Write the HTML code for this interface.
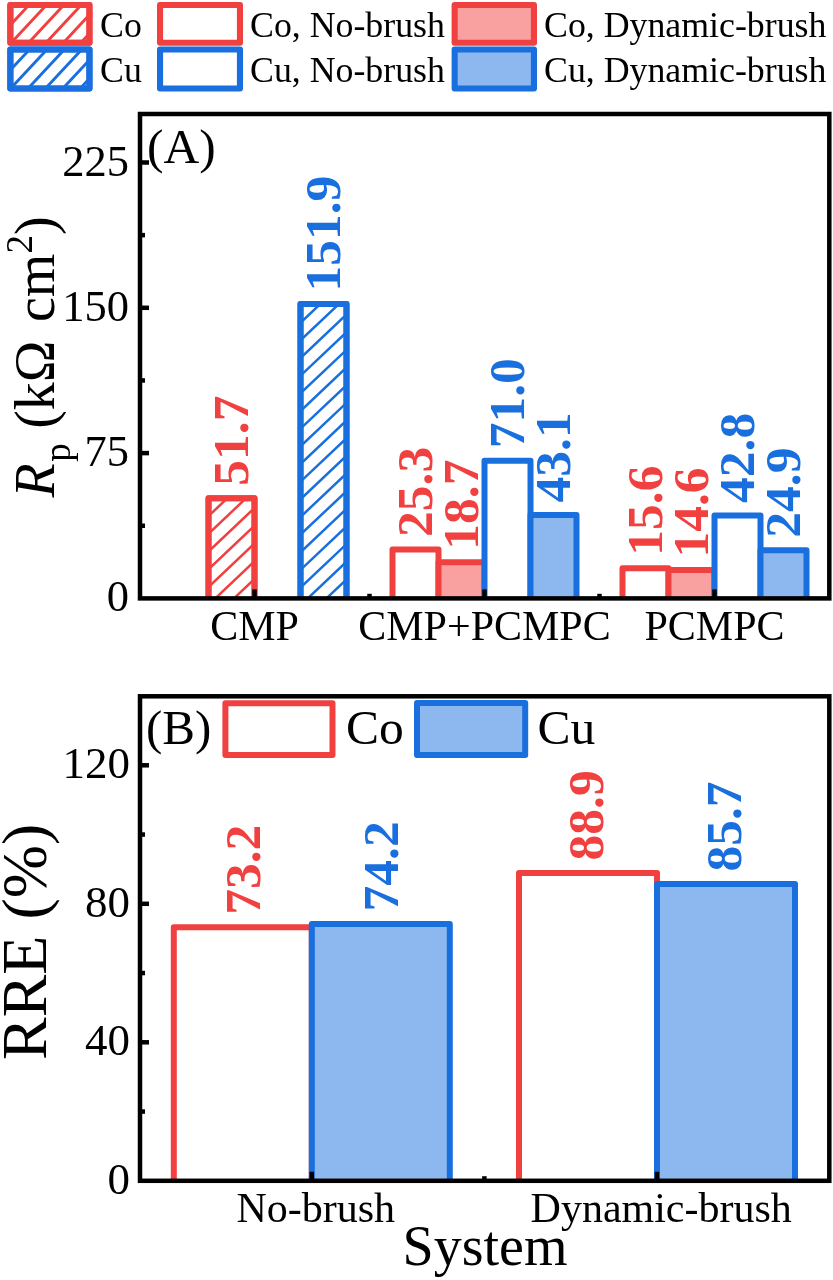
<!DOCTYPE html>
<html lang="en"><head><meta charset="utf-8"><title>Rp and RRE bar charts</title>
<style>html,body{margin:0;padding:0;background:#fff}body{width:833px;height:1280px;overflow:hidden}svg{display:block}text{font-family:"Liberation Serif", "Times New Roman", serif;fill:#000}</style>
</head><body>
<svg width="833" height="1280" viewBox="0 0 833 1280">
<rect width="833" height="1280" fill="#fff"/>
<rect x="10.35" y="5.05" width="79.10000000000001" height="37.699999999999996" fill="#fff" stroke="#F14040" stroke-width="6.1" stroke-linejoin="round"/>
<rect x="10.35" y="49.449999999999996" width="79.10000000000001" height="39.0" fill="#fff" stroke="#1A6FDF" stroke-width="6.1" stroke-linejoin="round"/>
<clipPath id="c1"><rect x="10.3" y="5.0" width="79.2" height="37.8"/></clipPath>
<g clip-path="url(#c1)" stroke="#F14040" stroke-width="2.9" fill="none">
<path d="M-25.50 44.80L13.49 3.00M-8.10 44.80L30.89 3.00M9.30 44.80L48.29 3.00M26.70 44.80L65.69 3.00M44.10 44.80L83.09 3.00M61.50 44.80L100.49 3.00M78.90 44.80L117.89 3.00"/></g>
<clipPath id="c2"><rect x="10.3" y="49.4" width="79.2" height="39.1"/></clipPath>
<g clip-path="url(#c2)" stroke="#1A6FDF" stroke-width="2.9" fill="none">
<path d="M-26.06 90.50L14.14 47.40M-8.66 90.50L31.54 47.40M8.74 90.50L48.94 47.40M26.14 90.50L66.34 47.40M43.54 90.50L83.74 47.40M60.94 90.50L101.14 47.40M78.34 90.50L118.54 47.40"/></g>
<rect x="10.35" y="5.05" width="79.10000000000001" height="37.699999999999996" fill="none" stroke="#F14040" stroke-width="6.1" stroke-linejoin="round"/>
<rect x="10.35" y="49.449999999999996" width="79.10000000000001" height="39.0" fill="none" stroke="#1A6FDF" stroke-width="6.1" stroke-linejoin="round"/>
<rect x="160.05" y="5.05" width="79.9" height="37.699999999999996" fill="#fff" stroke="#F14040" stroke-width="6.1" stroke-linejoin="round"/>
<rect x="160.05" y="49.449999999999996" width="79.9" height="39.0" fill="#fff" stroke="#1A6FDF" stroke-width="6.1" stroke-linejoin="round"/>
<rect x="454.65000000000003" y="5.05" width="79.29999999999998" height="37.699999999999996" fill="#F9A0A0" stroke="#F14040" stroke-width="6.1" stroke-linejoin="round"/>
<rect x="454.65000000000003" y="49.449999999999996" width="79.29999999999998" height="39.0" fill="#8CB7EF" stroke="#1A6FDF" stroke-width="6.1" stroke-linejoin="round"/>
<text x="100" y="36.6" font-size="35.8">Co</text>
<text x="100" y="81.5" font-size="35.8">Cu</text>
<text x="250" y="36.6" font-size="35.8">Co, No-brush</text>
<text x="250" y="81.5" font-size="35.8">Cu, No-brush</text>
<text x="544" y="36.6" font-size="35.8">Co, Dynamic-brush</text>
<text x="544" y="81.5" font-size="35.8">Cu, Dynamic-brush</text>
<path d="M208.5 598.4V498.2398666666666H254.5V598.4" fill="#fff" stroke="#F14040" stroke-width="6" stroke-linejoin="round"/>
<clipPath id="c3"><rect x="208.5" y="498.2398666666666" width="46.0" height="100.16013333333336"/></clipPath>
<g clip-path="url(#c3)" stroke="#F14040" stroke-width="2.5" fill="none">
<path d="M101.09 600.40L210.73 496.24M119.78 600.40L229.42 496.24M138.46 600.40L248.10 496.24M157.14 600.40L266.79 496.24M175.83 600.40L285.47 496.24M194.51 600.40L304.16 496.24M213.20 600.40L322.84 496.24M231.88 600.40L341.52 496.24M250.57 600.40L360.21 496.24"/></g>
<path d="M208.5 598.4V498.2398666666666H254.5V598.4" fill="none" stroke="#F14040" stroke-width="6" stroke-linejoin="round"/>
<path d="M300.5 598.4V304.11906666666664H346.5V598.4" fill="#fff" stroke="#1A6FDF" stroke-width="6" stroke-linejoin="round"/>
<clipPath id="c4"><rect x="300.5" y="304.11906666666664" width="46.0" height="294.28093333333334"/></clipPath>
<g clip-path="url(#c4)" stroke="#1A6FDF" stroke-width="2.5" fill="none">
<path d="M-12.07 600.40L303.58 302.12M6.62 600.40L322.26 302.12M25.31 600.40L340.95 302.12M44.00 600.40L359.64 302.12M62.69 600.40L378.33 302.12M81.37 600.40L397.01 302.12M100.06 600.40L415.70 302.12M118.75 600.40L434.39 302.12M137.44 600.40L453.08 302.12M156.12 600.40L471.77 302.12M174.81 600.40L490.45 302.12M193.50 600.40L509.14 302.12M212.19 600.40L527.83 302.12M230.88 600.40L546.52 302.12M249.56 600.40L565.20 302.12M268.25 600.40L583.89 302.12M286.94 600.40L602.58 302.12M305.63 600.40L621.27 302.12M324.31 600.40L639.96 302.12M343.00 600.40L658.64 302.12"/></g>
<path d="M300.5 598.4V304.11906666666664H346.5V598.4" fill="none" stroke="#1A6FDF" stroke-width="6" stroke-linejoin="round"/>
<path d="M392.5 598.4V549.3854666666666H438.5V598.4" fill="#fff" stroke="#F14040" stroke-width="6" stroke-linejoin="round"/>
<path d="M438.5 598.4V562.1718666666667H484.5V598.4" fill="#F9A0A0" stroke="#F14040" stroke-width="6" stroke-linejoin="round"/>
<path d="M484.5 598.4V460.84933333333333H530.5V598.4" fill="#fff" stroke="#1A6FDF" stroke-width="6" stroke-linejoin="round"/>
<path d="M530.5 598.4V514.9009333333333H576.5V598.4" fill="#8CB7EF" stroke="#1A6FDF" stroke-width="6" stroke-linejoin="round"/>
<path d="M622.5 598.4V568.1776H668.5V598.4" fill="#fff" stroke="#F14040" stroke-width="6" stroke-linejoin="round"/>
<path d="M668.5 598.4V570.1149333333333H714.5V598.4" fill="#F9A0A0" stroke="#F14040" stroke-width="6" stroke-linejoin="round"/>
<path d="M714.5 598.4V515.4821333333333H760.5V598.4" fill="#fff" stroke="#1A6FDF" stroke-width="6" stroke-linejoin="round"/>
<path d="M760.5 598.4V550.1604H806.5V598.4" fill="#8CB7EF" stroke="#1A6FDF" stroke-width="6" stroke-linejoin="round"/>
<text transform="translate(248.3 485.7398666666666) rotate(-90)" font-size="51.5" font-weight="bold" style="fill:#F14040">51.7</text>
<text transform="translate(340.3 291.61906666666664) rotate(-90)" font-size="51.5" font-weight="bold" style="fill:#1A6FDF">151.9</text>
<text transform="translate(432.3 536.8854666666666) rotate(-90)" font-size="51.5" font-weight="bold" style="fill:#F14040">25.3</text>
<text transform="translate(478.3 549.6718666666667) rotate(-90)" font-size="51.5" font-weight="bold" style="fill:#F14040">18.7</text>
<text transform="translate(524.3 448.34933333333333) rotate(-90)" font-size="51.5" font-weight="bold" style="fill:#1A6FDF">71.0</text>
<text transform="translate(570.3 502.40093333333334) rotate(-90)" font-size="51.5" font-weight="bold" style="fill:#1A6FDF">43.1</text>
<text transform="translate(662.3 555.6776) rotate(-90)" font-size="51.5" font-weight="bold" style="fill:#F14040">15.6</text>
<text transform="translate(708.3 557.6149333333333) rotate(-90)" font-size="51.5" font-weight="bold" style="fill:#F14040">14.6</text>
<text transform="translate(754.3 502.9821333333333) rotate(-90)" font-size="51.5" font-weight="bold" style="fill:#1A6FDF">42.8</text>
<text transform="translate(800.3 537.6604) rotate(-90)" font-size="51.5" font-weight="bold" style="fill:#1A6FDF">24.9</text>
<rect x="140" y="114" width="689.3" height="484.4" fill="none" stroke="#000" stroke-width="4.5"/>
<text x="129" y="611.4" font-size="44.5" text-anchor="end">0</text>
<line x1="140" x2="149" y1="453.09999999999997" y2="453.09999999999997" stroke="#000" stroke-width="4.5"/>
<text x="129" y="466.09999999999997" font-size="44.5" text-anchor="end">75</text>
<line x1="140" x2="149" y1="307.79999999999995" y2="307.79999999999995" stroke="#000" stroke-width="4.5"/>
<text x="129" y="320.79999999999995" font-size="44.5" text-anchor="end">150</text>
<line x1="140" x2="149" y1="162.49999999999994" y2="162.49999999999994" stroke="#000" stroke-width="4.5"/>
<text x="129" y="175.49999999999994" font-size="44.5" text-anchor="end">225</text>
<line x1="140" x2="145" y1="525.75" y2="525.75" stroke="#000" stroke-width="4.5"/>
<line x1="140" x2="145" y1="380.44999999999993" y2="380.44999999999993" stroke="#000" stroke-width="4.5"/>
<line x1="140" x2="145" y1="235.14999999999998" y2="235.14999999999998" stroke="#000" stroke-width="4.5"/>
<line x1="254.5" x2="254.5" y1="598.4" y2="589.4" stroke="#000" stroke-width="4.5"/>
<line x1="484.5" x2="484.5" y1="598.4" y2="589.4" stroke="#000" stroke-width="4.5"/>
<line x1="714.5" x2="714.5" y1="598.4" y2="589.4" stroke="#000" stroke-width="4.5"/>
<line x1="369.5" x2="369.5" y1="598.4" y2="593.8" stroke="#000" stroke-width="4.5"/>
<line x1="599.5" x2="599.5" y1="598.4" y2="593.8" stroke="#000" stroke-width="4.5"/>
<text x="254.5" y="640.3" font-size="42" text-anchor="middle">CMP</text>
<text x="484.5" y="640.3" font-size="42" text-anchor="middle">CMP+PCMPC</text>
<text x="714.5" y="640.3" font-size="42" text-anchor="middle">PCMPC</text>
<text x="147" y="162.5" font-size="49.5">(A)</text>
<text transform="translate(53.5 497.5) rotate(-90)" font-size="56"><tspan font-style="italic">R</tspan><tspan font-size="37" dy="16" dx="1.5">p</tspan><tspan dy="-16" dx="0.5"> (k&#937;</tspan><tspan dx="4.5"> cm</tspan><tspan font-size="37" dy="-22">2</tspan><tspan dy="22">)</tspan></text>
<path d="M173.8 1180.8V927.3449999999999H311.8V1180.8" fill="#fff" stroke="#F14040" stroke-width="6" stroke-linejoin="round"/>
<path d="M311.8 1180.8V923.8824999999999H449.8V1180.8" fill="#8CB7EF" stroke="#1A6FDF" stroke-width="6" stroke-linejoin="round"/>
<path d="M519.0 1180.8V872.9837499999999H657.0V1180.8" fill="#fff" stroke="#F14040" stroke-width="6" stroke-linejoin="round"/>
<path d="M657.0 1180.8V884.06375H795.0V1180.8" fill="#8CB7EF" stroke="#1A6FDF" stroke-width="6" stroke-linejoin="round"/>
<text transform="translate(259.6 914.8449999999999) rotate(-90)" font-size="51.5" font-weight="bold" style="fill:#F14040">73.2</text>
<text transform="translate(397.6 911.3824999999999) rotate(-90)" font-size="51.5" font-weight="bold" style="fill:#1A6FDF">74.2</text>
<text transform="translate(603.0 860.4837499999999) rotate(-90)" font-size="51.5" font-weight="bold" style="fill:#F14040">88.9</text>
<text transform="translate(741.0 871.56375) rotate(-90)" font-size="51.5" font-weight="bold" style="fill:#1A6FDF">85.7</text>
<rect x="140" y="696.3" width="689.3" height="484.5" fill="none" stroke="#000" stroke-width="4.5"/>
<text x="130" y="1193.8" font-size="45" text-anchor="end">0</text>
<line x1="140" x2="149" y1="1042.3" y2="1042.3" stroke="#000" stroke-width="4.5"/>
<text x="130" y="1055.3" font-size="45" text-anchor="end">40</text>
<line x1="140" x2="149" y1="903.8" y2="903.8" stroke="#000" stroke-width="4.5"/>
<text x="130" y="916.8" font-size="45" text-anchor="end">80</text>
<line x1="140" x2="149" y1="765.3" y2="765.3" stroke="#000" stroke-width="4.5"/>
<text x="130" y="778.3" font-size="45" text-anchor="end">120</text>
<line x1="140" x2="145" y1="1111.55" y2="1111.55" stroke="#000" stroke-width="4.5"/>
<line x1="140" x2="145" y1="973.05" y2="973.05" stroke="#000" stroke-width="4.5"/>
<line x1="140" x2="145" y1="834.55" y2="834.55" stroke="#000" stroke-width="4.5"/>
<line x1="311.8" x2="311.8" y1="1180.8" y2="1171.8" stroke="#000" stroke-width="4.5"/>
<line x1="657" x2="657" y1="1180.8" y2="1171.8" stroke="#000" stroke-width="4.5"/>
<line x1="484.4" x2="484.4" y1="1180.8" y2="1176.2" stroke="#000" stroke-width="4.5"/>
<text x="315.8" y="1221.5" font-size="42" text-anchor="middle">No-brush</text>
<text x="661.2" y="1221.5" font-size="42" text-anchor="middle">Dynamic-brush</text>
<text x="485" y="1265" font-size="56" text-anchor="middle">System</text>
<text x="146" y="743.5" font-size="49">(B)</text>
<rect x="225.4" y="703.3" width="107.1" height="51.700000000000045" fill="#fff" stroke="#F14040" stroke-width="6" stroke-linejoin="round"/>
<rect x="417.0" y="703.0" width="108.20000000000005" height="52" fill="#8CB7EF" stroke="#1A6FDF" stroke-width="6" stroke-linejoin="round"/>
<text x="346" y="743.5" font-size="49.5">Co</text>
<text x="537.5" y="743.5" font-size="49.5">Cu</text>
<text transform="translate(46 1060) rotate(-90)" font-size="64">RRE (%)</text>
</svg></body></html>
